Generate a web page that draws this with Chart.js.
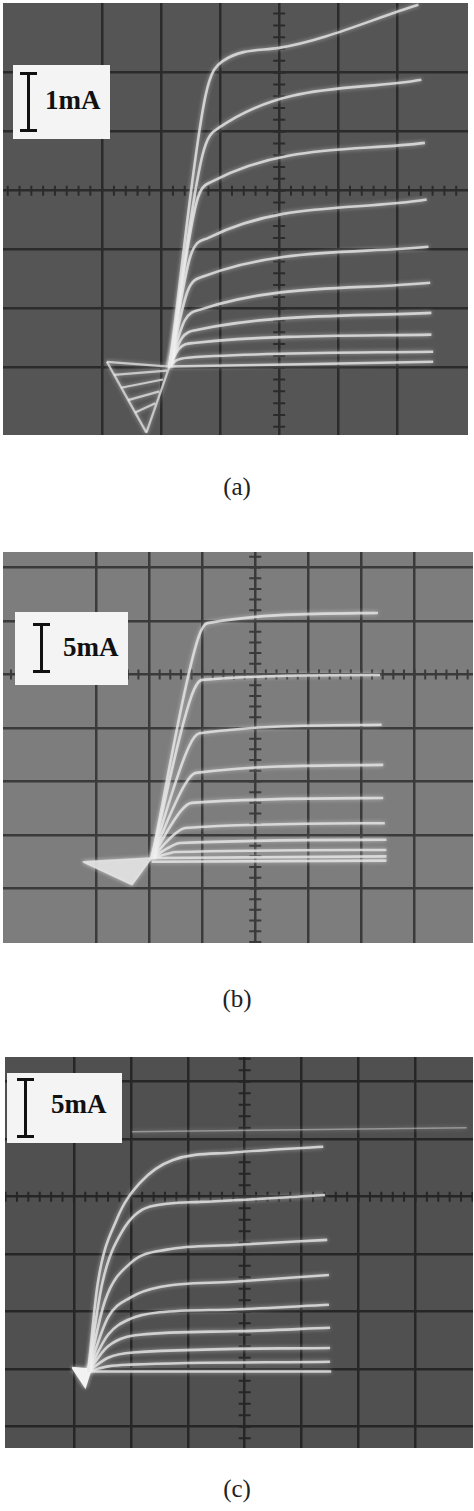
<!DOCTYPE html>
<html>
<head>
<meta charset="utf-8">
<script src="https://cdn.jsdelivr.net/npm/chart.js@4/dist/chart.umd.min.js"></script>
<style>
  body { margin: 0; background: #fff; width: 474px; height: 1511px; position: relative; overflow: hidden; }
  .panel { position: absolute; }
  .scale { position: absolute; background: #f4f4f4; font: bold 27px "Liberation Serif", "Times New Roman", serif; color: #111; }
  .scale .bar { position: absolute; width: 3px; background: #111; }
  .scale .bar::before, .scale .bar::after { content: ""; position: absolute; left: -7px; width: 17px; height: 3px; background: #111; }
  .scale .bar::before { top: 0; }
  .scale .bar::after { bottom: 0; }
  .scale span { position: absolute; }
  .cap { position: absolute; width: 474px; text-align: center; font: 25px "Liberation Serif", "Times New Roman", serif; color: #222; }
</style>
</head>
<body>
<div class="panel" style="left:3px;top:3px;width:465px;height:432px"><canvas id="chartA"></canvas></div>
<div class="panel" style="left:3px;top:552px;width:470px;height:391px"><canvas id="chartB"></canvas></div>
<div class="panel" style="left:5px;top:1057px;width:468px;height:391px"><canvas id="chartC"></canvas></div>

<div class="scale" style="left:13px;top:65px;width:97px;height:74px"><div class="bar" style="left:14px;top:7px;height:60px"></div><span style="left:32px;top:20px">1mA</span></div>
<div class="scale" style="left:15px;top:612px;width:113px;height:73px"><div class="bar" style="left:25px;top:11px;height:50px"></div><span style="left:48px;top:20px">5mA</span></div>
<div class="scale" style="left:7px;top:1073px;width:115px;height:70px"><div class="bar" style="left:17px;top:5px;height:60px"></div><span style="left:44px;top:16px">5mA</span></div>

<div class="cap" style="top:473px">(a)</div>
<div class="cap" style="top:985px">(b)</div>
<div class="cap" style="top:1475px">(c)</div>

<script>
// panel (a) curves, in screen divisions
const curvesA = [
  [[2.14,1.02],[2.75,5.6],[3.05,6.2],[4.0,6.42],[6.36,7.15]],
  [[2.14,1.02],[2.7,4.6],[3.0,5.08],[6.41,5.88]],
  [[2.14,1.02],[2.6,3.8],[2.85,4.15],[6.47,4.81]],
  [[2.14,1.02],[2.5,2.9],[2.8,3.2],[6.5,3.85]],
  [[2.14,1.02],[2.45,2.3],[2.7,2.54],[6.53,3.05]],
  [[2.14,1.02],[2.4,1.8],[2.65,1.98],[6.56,2.44]],
  [[2.14,1.02],[2.35,1.5],[2.6,1.64],[6.58,1.93]],
  [[2.14,1.02],[2.3,1.32],[2.55,1.42],[6.58,1.56]],
  [[2.14,1.02],[2.25,1.12],[2.45,1.17],[6.61,1.27]],
  [[2.14,1.02],[6.61,1.1]]
];
const fanA = [
  [[1.08,1.1],[2.14,1.02]],
  [[1.08,1.1],[1.75,-0.1]],
  [[2.14,1.02],[1.75,-0.1]],
  [[1.2,0.88],[2.1,0.95]],
  [[1.32,0.66],[2.03,0.8]],
  [[1.44,0.45],[1.97,0.6]],
  [[1.56,0.24],[1.9,0.4]]
];

// panel (b)
const curvesB = [
  [[2.05,1.57],[2.9,5.6],[3.1,5.96],[6.31,6.15]],
  [[2.05,1.57],[2.8,4.6],[3.0,4.9],[6.35,4.99]],
  [[2.05,1.57],[2.75,3.65],[2.95,3.9],[6.38,4.06]],
  [[2.05,1.57],[2.68,2.95],[2.88,3.16],[6.41,3.31]],
  [[2.05,1.57],[2.6,2.45],[2.8,2.6],[6.41,2.69]],
  [[2.05,1.57],[2.5,2.03],[2.68,2.13],[6.44,2.22]],
  [[2.05,1.57],[2.4,1.78],[2.58,1.85],[6.47,1.91]],
  [[2.05,1.57],[2.35,1.65],[2.5,1.68],[6.47,1.72]],
  [[2.05,1.57],[6.47,1.6]],
  [[2.05,1.5],[6.47,1.52]]
];
const triB = [[0.75,1.5],[1.68,1.07],[2.05,1.57],[0.75,1.5]];

// panel (c)
const curvesC = [
  [[1.25,0.96],[1.42,2.5],[1.75,3.6],[2.16,4.24],[2.74,4.64],[3.8,4.77],[5.38,4.87]],
  [[1.25,0.96],[1.5,2.5],[1.85,3.4],[2.34,3.83],[3.22,3.91],[5.41,4.03]],
  [[1.25,0.96],[1.55,2.2],[2.0,2.85],[2.63,3.08],[3.8,3.16],[5.45,3.25]],
  [[1.25,0.96],[1.6,1.9],[2.0,2.25],[2.51,2.43],[3.8,2.52],[5.48,2.64]],
  [[1.25,0.96],[1.6,1.6],[2.0,1.88],[2.5,1.99],[3.8,2.04],[5.48,2.12]],
  [[1.25,0.96],[1.6,1.4],[2.16,1.6],[3.8,1.66],[5.5,1.72]],
  [[1.25,0.96],[1.6,1.2],[2.04,1.29],[5.5,1.37]],
  [[1.25,0.96],[1.6,1.05],[2.0,1.08],[5.5,1.13]],
  [[1.25,0.96],[5.52,0.96]]
];
const triC = [[0.97,1.03],[1.2,0.68],[1.3,1.0],[0.97,1.03]];
const faintC = [[2.02,5.13],[7.9,5.2]];

const toXY = pts => pts.map(p => ({ x: p[0], y: p[1] }));

const scope = {
  id: 'scope',
  beforeDraw(chart, args, opts) {
    const { ctx, chartArea: a } = chart;
    ctx.save();
    ctx.fillStyle = opts.bg;
    ctx.fillRect(a.left, a.top, a.width, a.height);
    ctx.restore();
  },
  beforeDatasetsDraw(chart, args, opts) {
    const { ctx, scales: { x, y } } = chart;
    // minor ticks on the centre axes
    ctx.save();
    ctx.strokeStyle = opts.grid;
    ctx.lineWidth = 2;
    const px = x.getPixelForValue(opts.cx), py = y.getPixelForValue(opts.cy);
    ctx.beginPath();
    for (let v = Math.ceil(x.min * 5) / 5; v <= x.max; v += 0.2) {
      const p = x.getPixelForValue(v);
      ctx.moveTo(p, py - 5); ctx.lineTo(p, py + 5);
    }
    for (let v = Math.ceil(y.min * 5) / 5; v <= y.max; v += 0.2) {
      const p = y.getPixelForValue(v);
      ctx.moveTo(px - 6, p); ctx.lineTo(px + 6, p);
    }
    ctx.stroke();
    ctx.restore();
    ctx.save();
    ctx.shadowColor = 'rgba(255,255,255,0.6)';
    ctx.shadowBlur = 4;
  },
  afterDatasetsDraw(chart) {
    chart.ctx.restore();
  }
};

function makeChart(id, curves, extras, range, look) {
  const datasets = curves.map(c => ({
    data: toXY(c),
    borderColor: 'rgba(232,232,232,0.8)',
    borderWidth: 2.6,
    pointRadius: 0,
    cubicInterpolationMode: 'monotone'
  })).concat(extras);
  const axis = (min, max) => ({
    type: 'linear', min, max,
    ticks: { display: false, stepSize: 1 },
    grid: { color: look.grid, lineWidth: 2.5, drawTicks: false },
    border: { display: false },
    afterBuildTicks: s => { s.ticks = s.ticks.filter(t => Math.abs(t.value - Math.round(t.value)) < 1e-6); }
  });
  return new Chart(document.getElementById(id), {
    type: 'line',
    data: { datasets },
    options: {
      responsive: true,
      maintainAspectRatio: false,
      animation: false,
      layout: { padding: 0 },
      scales: { x: axis(range[0], range[1]), y: axis(range[2], range[3]) },
      plugins: {
        legend: { display: false },
        tooltip: { enabled: false },
        scope: { bg: look.bg, grid: look.grid, cx: look.cx, cy: look.cy }
      }
    },
    plugins: [scope]
  });
}

const edge = (pts, w, col) => ({
  data: toXY(pts), borderColor: col || 'rgba(230,230,230,0.75)', borderWidth: w || 2.2, pointRadius: 0, tension: 0
});

makeChart('chartA', curvesA, fanA.map(f => edge(f)), [-0.68, 7.2, -0.14, 7.18],
  { bg: '#555555', grid: '#2b2b2b', cx: 4, cy: 4 });

makeChart('chartB', curvesB, [Object.assign(edge(triB, 1.5), { fill: 'shape', backgroundColor: 'rgba(225,225,225,0.85)' })],
  [-0.75, 8.1, -0.02, 7.29], { bg: '#7d7d7d', grid: '#3a3a3a', cx: 4, cy: 5 });

makeChart('chartC', curvesC, [
  Object.assign(edge(triC, 1.5, 'rgba(245,245,245,0.95)'), { fill: 'shape', backgroundColor: 'rgba(245,245,245,0.95)' }),
  edge(faintC, 1.5, 'rgba(210,210,210,0.5)')
], [-0.21, 8.01, -0.37, 6.43], { bg: '#505050', grid: '#262626', cx: 4, cy: 4 });
</script>
</body>
</html>
